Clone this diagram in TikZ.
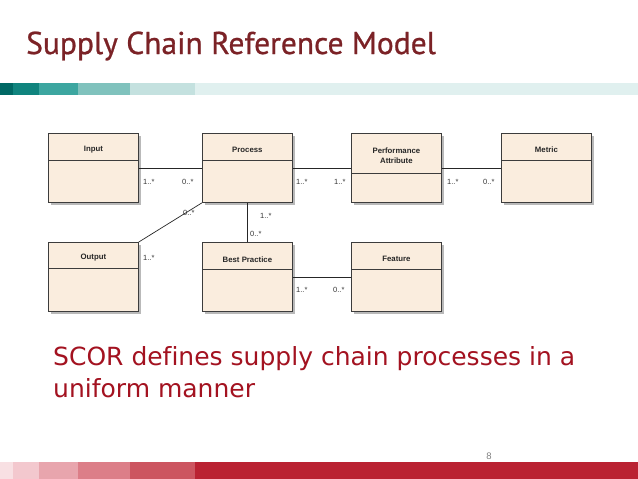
\documentclass[tikz,border=0pt]{standalone}
\usepackage{fontspec}
\setmainfont{Liberation Sans}
\newfontfamily\titlefont[Ligatures=NoCommon, FakeBold=0.8]{PT Sans}
\newfontfamily\bodyfont[Ligatures=NoCommon]{DejaVu Sans}
\usetikzlibrary{shadows}
\definecolor{titlered}{RGB}{123,34,38}
\definecolor{textred}{RGB}{163,18,32}
\definecolor{boxfill}{RGB}{250,237,222}
\definecolor{boxline}{RGB}{60,60,60}
\definecolor{tA}{RGB}{0,104,100}
\definecolor{tB}{RGB}{16,132,126}
\definecolor{tC}{RGB}{60,166,160}
\definecolor{tD}{RGB}{128,194,189}
\definecolor{tE}{RGB}{196,225,223}
\definecolor{tF}{RGB}{224,240,239}
\definecolor{rA}{RGB}{248,224,227}
\definecolor{rB}{RGB}{243,200,206}
\definecolor{rC}{RGB}{232,165,173}
\definecolor{rD}{RGB}{220,126,136}
\definecolor{rE}{RGB}{204,85,96}
\definecolor{rF}{RGB}{186,34,50}
\tikzset{
  umlbox/.style={draw=boxline, fill=boxfill, line width=0.8pt, inner sep=0pt,
    minimum width=90pt, minimum height=69pt, anchor=north west,
    general shadow={fill=gray!55, shadow xshift=2.2pt, shadow yshift=-2.2pt}},
  hdr/.style={font=\fontsize{7.8}{9}\selectfont\bfseries, text=black!85, align=center, inner sep=0pt},
  mult/.style={font=\fontsize{7.5}{8}\selectfont, text=black!80, anchor=base west, inner sep=0pt},
  assoc/.style={draw=black!85, line width=0.7pt},
  sep/.style={draw=boxline, line width=0.7pt},
  bodytext/.style={font=\bodyfont\fontsize{25}{30}\selectfont, text=textred, anchor=base west, inner sep=0pt}
}
\begin{document}
\begin{tikzpicture}[x=1pt,y=-1pt]
\useasboundingbox (0,0) rectangle (638,479);
\fill[white] (0,0) rectangle (638,479);
% top bar
\fill[tA] (0,83) rectangle (13,95);
\fill[tB] (13,83) rectangle (39,95);
\fill[tC] (39,83) rectangle (78,95);
\fill[tD] (78,83) rectangle (130,95);
\fill[tE] (130,83) rectangle (195,95);
\fill[tF] (195,83) rectangle (638,95);
% bottom bar
\fill[rA] (0,462) rectangle (13,479);
\fill[rB] (13,462) rectangle (39,479);
\fill[rC] (39,462) rectangle (78,479);
\fill[rD] (78,462) rectangle (130,479);
\fill[rE] (130,462) rectangle (195,479);
\fill[rF] (195,462) rectangle (638,479);
\node[font=\fontsize{9.5}{10}\selectfont, text=black!50, inner sep=0pt] (pagenum) at (489,456) {8};
% title
\node[font=\titlefont\fontsize{31.5}{36}\selectfont, text=titlered, anchor=base west, inner sep=0pt] (title) at (26,54) {Supply Chain Reference Model};
% boxes
\node[umlbox] (input) at (48,133) {};
\node[umlbox] (process) at (202,133) {};
\node[umlbox] (perf) at (351,133) {};
\node[umlbox] (metric) at (501,133) {};
\node[umlbox] (output) at (48,242) {};
\node[umlbox] (best) at (202,242) {};
\node[umlbox] (feature) at (351,242) {};
% separators
\draw[sep] ([yshift=-27pt]input.north west) -- ([yshift=-27pt]input.north east);
\draw[sep] ([yshift=-27pt]process.north west) -- ([yshift=-27pt]process.north east);
\draw[sep] ([yshift=-40pt]perf.north west) -- ([yshift=-40pt]perf.north east);
\draw[sep] ([yshift=-27pt]metric.north west) -- ([yshift=-27pt]metric.north east);
\draw[sep] ([yshift=-26pt]output.north west) -- ([yshift=-26pt]output.north east);
\draw[sep] ([yshift=-27pt]best.north west) -- ([yshift=-27pt]best.north east);
\draw[sep] ([yshift=-27pt]feature.north west) -- ([yshift=-27pt]feature.north east);
% headers
\node[hdr] (inputl) at ([yshift=-17pt]input.north) {Input};
\node[hdr] (processl) at ([yshift=-17pt]process.north) {Process};
\node[hdr] (perfl) at ([yshift=-23pt]perf.north) {Performance\\[1pt]Attribute};
\node[hdr] (metricl) at ([yshift=-17pt]metric.north) {Metric};
\node[hdr] (outputl) at ([yshift=-16pt]output.north) {Output};
\node[hdr] (bestl) at ([yshift=-18pt]best.north) {Best Practice};
\node[hdr] (featurel) at ([yshift=-17pt]feature.north) {Feature};
% associations
\draw[assoc] (input.east) -- (process.west);
\draw[assoc] (process.east) -- (perf.west);
\draw[assoc] (perf.east) -- (metric.west);
\draw[assoc] (process.south) -- (best.north);
\draw[assoc] (output.north east) -- (process.south west);
\draw[assoc] (best.east) -- (feature.west);
% multiplicities
\node[mult] (m1) at (143,184) {1..*};
\node[mult] (m2) at (182,184) {0..*};
\node[mult] (m3) at (296,184) {1..*};
\node[mult] (m4) at (334,184) {1..*};
\node[mult] (m5) at (447,184) {1..*};
\node[mult] (m6) at (483,184) {0..*};
\node[mult] (m7) at (183,215) {0..*};
\node[mult] (m8) at (143,260) {1..*};
\node[mult] (m9) at (260,218) {1..*};
\node[mult] (m10) at (250,236) {0..*};
\node[mult] (m11) at (296,292) {1..*};
\node[mult] (m12) at (333,292) {0..*};
% bottom text
\node[bodytext] (body) at (53,365) {SCOR defines supply chain processes in a};
\node[bodytext] (body2) at (53,397) {uniform manner};
\end{tikzpicture}
\end{document}
